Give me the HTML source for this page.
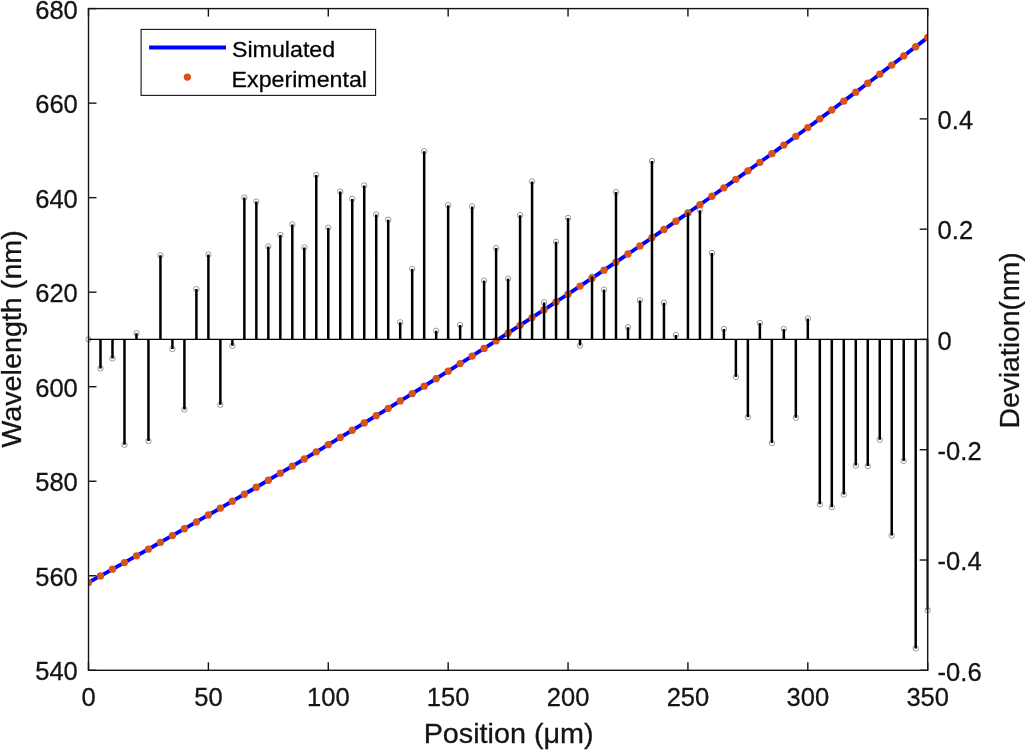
<!DOCTYPE html>
<html lang="en"><head><meta charset="utf-8"><title>Wavelength vs Position</title>
<style>html,body{margin:0;padding:0;background:#fff;overflow:hidden}svg{display:block}svg text{font-family:"Liberation Sans",Arial,Helvetica,sans-serif;stroke:#141414;stroke-width:0.3px}</style></head>
<body>
<svg width="1025" height="750" viewBox="0 0 1025 750" >
<rect width="1025" height="750" fill="#fff"/>
<clipPath id="cp"><rect x="88.5" y="8.6" width="839.2" height="661.6999999999999"/></clipPath>
<g id="left-series" clip-path="url(#cp)">
<polyline points="88.50,582.52 94.49,579.20 100.49,575.88 106.48,572.56 112.48,569.22 118.47,565.89 124.47,562.54 130.46,559.19 136.45,555.83 142.45,552.47 148.44,549.10 154.44,545.72 160.43,542.34 166.43,538.95 172.42,535.55 178.41,532.14 184.41,528.73 190.40,525.31 196.40,521.89 202.39,518.46 208.39,515.02 214.38,511.57 220.37,508.12 226.37,504.66 232.36,501.19 238.36,497.72 244.35,494.23 250.35,490.74 256.34,487.25 262.33,483.74 268.33,480.23 274.32,476.71 280.32,473.18 286.31,469.65 292.31,466.11 298.30,462.56 304.29,459.00 310.29,455.43 316.28,451.86 322.28,448.28 328.27,444.69 334.27,441.09 340.26,437.48 346.25,433.87 352.25,430.25 358.24,426.62 364.24,422.98 370.23,419.33 376.23,415.68 382.22,412.01 388.21,408.34 394.21,404.66 400.20,400.97 406.20,397.28 412.19,393.57 418.19,389.86 424.18,386.13 430.17,382.40 436.17,378.66 442.16,374.91 448.16,371.15 454.15,367.38 460.15,363.61 466.14,359.82 472.13,356.03 478.13,352.22 484.12,348.41 490.12,344.59 496.11,340.76 502.11,336.91 508.10,333.06 514.09,329.20 520.09,325.34 526.08,321.46 532.08,317.57 538.07,313.67 544.07,309.76 550.06,305.85 556.05,301.92 562.05,297.98 568.04,294.04 574.04,290.08 580.03,286.11 586.03,282.14 592.02,278.15 598.01,274.16 604.01,270.15 610.00,266.13 616.00,262.11 621.99,258.07 627.99,254.02 633.98,249.97 639.97,245.90 645.97,241.82 651.96,237.73 657.96,233.63 663.95,229.52 669.95,225.40 675.94,221.27 681.93,217.13 687.93,212.97 693.92,208.81 699.92,204.64 705.91,200.45 711.91,196.25 717.90,192.05 723.89,187.83 729.89,183.60 735.88,179.36 741.88,175.11 747.87,170.84 753.87,166.57 759.86,162.29 765.85,157.99 771.85,153.68 777.84,149.36 783.84,145.03 789.83,140.69 795.83,136.33 801.82,131.97 807.81,127.59 813.81,123.20 819.80,118.80 825.80,114.39 831.79,109.96 837.79,105.52 843.78,101.07 849.77,96.61 855.77,92.14 861.76,87.66 867.76,83.16 873.75,78.65 879.75,74.13 885.74,69.59 891.73,65.05 897.73,60.49 903.72,55.92 909.72,51.34 915.71,46.74 921.71,42.13 927.70,37.51" fill="none" stroke="#0000ff" stroke-width="3.8" stroke-linejoin="round"/>
<circle cx="88.50" cy="582.52" r="3.65" fill="#d95319"/>
<circle cx="100.49" cy="575.88" r="3.65" fill="#d95319"/>
<circle cx="112.48" cy="569.22" r="3.65" fill="#d95319"/>
<circle cx="124.47" cy="562.54" r="3.65" fill="#d95319"/>
<circle cx="136.45" cy="555.83" r="3.65" fill="#d95319"/>
<circle cx="148.44" cy="549.10" r="3.65" fill="#d95319"/>
<circle cx="160.43" cy="542.34" r="3.65" fill="#d95319"/>
<circle cx="172.42" cy="535.55" r="3.65" fill="#d95319"/>
<circle cx="184.41" cy="528.73" r="3.65" fill="#d95319"/>
<circle cx="196.40" cy="521.89" r="3.65" fill="#d95319"/>
<circle cx="208.39" cy="515.02" r="3.65" fill="#d95319"/>
<circle cx="220.37" cy="508.12" r="3.65" fill="#d95319"/>
<circle cx="232.36" cy="501.19" r="3.65" fill="#d95319"/>
<circle cx="244.35" cy="494.23" r="3.65" fill="#d95319"/>
<circle cx="256.34" cy="487.25" r="3.65" fill="#d95319"/>
<circle cx="268.33" cy="480.23" r="3.65" fill="#d95319"/>
<circle cx="280.32" cy="473.18" r="3.65" fill="#d95319"/>
<circle cx="292.31" cy="466.11" r="3.65" fill="#d95319"/>
<circle cx="304.29" cy="459.00" r="3.65" fill="#d95319"/>
<circle cx="316.28" cy="451.86" r="3.65" fill="#d95319"/>
<circle cx="328.27" cy="444.69" r="3.65" fill="#d95319"/>
<circle cx="340.26" cy="437.48" r="3.65" fill="#d95319"/>
<circle cx="352.25" cy="430.25" r="3.65" fill="#d95319"/>
<circle cx="364.24" cy="422.98" r="3.65" fill="#d95319"/>
<circle cx="376.23" cy="415.68" r="3.65" fill="#d95319"/>
<circle cx="388.21" cy="408.34" r="3.65" fill="#d95319"/>
<circle cx="400.20" cy="400.97" r="3.65" fill="#d95319"/>
<circle cx="412.19" cy="393.57" r="3.65" fill="#d95319"/>
<circle cx="424.18" cy="386.13" r="3.65" fill="#d95319"/>
<circle cx="436.17" cy="378.66" r="3.65" fill="#d95319"/>
<circle cx="448.16" cy="371.15" r="3.65" fill="#d95319"/>
<circle cx="460.15" cy="363.61" r="3.65" fill="#d95319"/>
<circle cx="472.13" cy="356.03" r="3.65" fill="#d95319"/>
<circle cx="484.12" cy="348.41" r="3.65" fill="#d95319"/>
<circle cx="496.11" cy="340.76" r="3.65" fill="#d95319"/>
<circle cx="508.10" cy="333.06" r="3.65" fill="#d95319"/>
<circle cx="520.09" cy="325.34" r="3.65" fill="#d95319"/>
<circle cx="532.08" cy="317.57" r="3.65" fill="#d95319"/>
<circle cx="544.07" cy="309.76" r="3.65" fill="#d95319"/>
<circle cx="556.05" cy="301.92" r="3.65" fill="#d95319"/>
<circle cx="568.04" cy="294.04" r="3.65" fill="#d95319"/>
<circle cx="580.03" cy="286.11" r="3.65" fill="#d95319"/>
<circle cx="592.02" cy="278.15" r="3.65" fill="#d95319"/>
<circle cx="604.01" cy="270.15" r="3.65" fill="#d95319"/>
<circle cx="616.00" cy="262.11" r="3.65" fill="#d95319"/>
<circle cx="627.99" cy="254.02" r="3.65" fill="#d95319"/>
<circle cx="639.97" cy="245.90" r="3.65" fill="#d95319"/>
<circle cx="651.96" cy="237.73" r="3.65" fill="#d95319"/>
<circle cx="663.95" cy="229.52" r="3.65" fill="#d95319"/>
<circle cx="675.94" cy="221.27" r="3.65" fill="#d95319"/>
<circle cx="687.93" cy="212.97" r="3.65" fill="#d95319"/>
<circle cx="699.92" cy="204.64" r="3.65" fill="#d95319"/>
<circle cx="711.91" cy="196.25" r="3.65" fill="#d95319"/>
<circle cx="723.89" cy="187.83" r="3.65" fill="#d95319"/>
<circle cx="735.88" cy="179.36" r="3.65" fill="#d95319"/>
<circle cx="747.87" cy="170.84" r="3.65" fill="#d95319"/>
<circle cx="759.86" cy="162.29" r="3.65" fill="#d95319"/>
<circle cx="771.85" cy="153.68" r="3.65" fill="#d95319"/>
<circle cx="783.84" cy="145.03" r="3.65" fill="#d95319"/>
<circle cx="795.83" cy="136.33" r="3.65" fill="#d95319"/>
<circle cx="807.81" cy="127.59" r="3.65" fill="#d95319"/>
<circle cx="819.80" cy="118.80" r="3.65" fill="#d95319"/>
<circle cx="831.79" cy="109.96" r="3.65" fill="#d95319"/>
<circle cx="843.78" cy="101.07" r="3.65" fill="#d95319"/>
<circle cx="855.77" cy="92.14" r="3.65" fill="#d95319"/>
<circle cx="867.76" cy="83.16" r="3.65" fill="#d95319"/>
<circle cx="879.75" cy="74.13" r="3.65" fill="#d95319"/>
<circle cx="891.73" cy="65.05" r="3.65" fill="#d95319"/>
<circle cx="903.72" cy="55.92" r="3.65" fill="#d95319"/>
<circle cx="915.71" cy="46.74" r="3.65" fill="#d95319"/>
<circle cx="927.70" cy="37.51" r="3.65" fill="#d95319"/>
</g>
<clipPath id="cs"><rect x="88.5" y="8.6" width="839.9000000000001" height="661.6999999999999"/></clipPath>
<g id="stems">
<circle cx="88.50" cy="339.3" r="2.7" fill="none" stroke="#707070" stroke-width="0.7"/>
<circle cx="100.49" cy="368.4" r="2.7" fill="none" stroke="#707070" stroke-width="0.7"/>
<circle cx="112.48" cy="358.4" r="2.7" fill="none" stroke="#707070" stroke-width="0.7"/>
<circle cx="124.47" cy="444.8" r="2.7" fill="none" stroke="#707070" stroke-width="0.7"/>
<circle cx="136.45" cy="333.2" r="2.7" fill="none" stroke="#707070" stroke-width="0.7"/>
<circle cx="148.44" cy="441.1" r="2.7" fill="none" stroke="#707070" stroke-width="0.7"/>
<circle cx="160.43" cy="255.3" r="2.7" fill="none" stroke="#707070" stroke-width="0.7"/>
<circle cx="172.42" cy="349.1" r="2.7" fill="none" stroke="#707070" stroke-width="0.7"/>
<circle cx="184.41" cy="409.5" r="2.7" fill="none" stroke="#707070" stroke-width="0.7"/>
<circle cx="196.40" cy="289.1" r="2.7" fill="none" stroke="#707070" stroke-width="0.7"/>
<circle cx="208.39" cy="254.5" r="2.7" fill="none" stroke="#707070" stroke-width="0.7"/>
<circle cx="220.37" cy="404.7" r="2.7" fill="none" stroke="#707070" stroke-width="0.7"/>
<circle cx="232.36" cy="345.8" r="2.7" fill="none" stroke="#707070" stroke-width="0.7"/>
<circle cx="244.35" cy="197.6" r="2.7" fill="none" stroke="#707070" stroke-width="0.7"/>
<circle cx="256.34" cy="201.6" r="2.7" fill="none" stroke="#707070" stroke-width="0.7"/>
<circle cx="268.33" cy="246.5" r="2.7" fill="none" stroke="#707070" stroke-width="0.7"/>
<circle cx="280.32" cy="235.0" r="2.7" fill="none" stroke="#707070" stroke-width="0.7"/>
<circle cx="292.31" cy="224.4" r="2.7" fill="none" stroke="#707070" stroke-width="0.7"/>
<circle cx="304.29" cy="247.5" r="2.7" fill="none" stroke="#707070" stroke-width="0.7"/>
<circle cx="316.28" cy="175.0" r="2.7" fill="none" stroke="#707070" stroke-width="0.7"/>
<circle cx="328.27" cy="227.7" r="2.7" fill="none" stroke="#707070" stroke-width="0.7"/>
<circle cx="340.26" cy="191.6" r="2.7" fill="none" stroke="#707070" stroke-width="0.7"/>
<circle cx="352.25" cy="198.9" r="2.7" fill="none" stroke="#707070" stroke-width="0.7"/>
<circle cx="364.24" cy="185.4" r="2.7" fill="none" stroke="#707070" stroke-width="0.7"/>
<circle cx="376.23" cy="214.5" r="2.7" fill="none" stroke="#707070" stroke-width="0.7"/>
<circle cx="388.21" cy="219.7" r="2.7" fill="none" stroke="#707070" stroke-width="0.7"/>
<circle cx="400.20" cy="322.3" r="2.7" fill="none" stroke="#707070" stroke-width="0.7"/>
<circle cx="412.19" cy="268.9" r="2.7" fill="none" stroke="#707070" stroke-width="0.7"/>
<circle cx="424.18" cy="151.3" r="2.7" fill="none" stroke="#707070" stroke-width="0.7"/>
<circle cx="436.17" cy="330.8" r="2.7" fill="none" stroke="#707070" stroke-width="0.7"/>
<circle cx="448.16" cy="205.2" r="2.7" fill="none" stroke="#707070" stroke-width="0.7"/>
<circle cx="460.15" cy="325.0" r="2.7" fill="none" stroke="#707070" stroke-width="0.7"/>
<circle cx="472.13" cy="206.4" r="2.7" fill="none" stroke="#707070" stroke-width="0.7"/>
<circle cx="484.12" cy="280.6" r="2.7" fill="none" stroke="#707070" stroke-width="0.7"/>
<circle cx="496.11" cy="248.0" r="2.7" fill="none" stroke="#707070" stroke-width="0.7"/>
<circle cx="508.10" cy="278.6" r="2.7" fill="none" stroke="#707070" stroke-width="0.7"/>
<circle cx="520.09" cy="215.2" r="2.7" fill="none" stroke="#707070" stroke-width="0.7"/>
<circle cx="532.08" cy="181.4" r="2.7" fill="none" stroke="#707070" stroke-width="0.7"/>
<circle cx="544.07" cy="302.4" r="2.7" fill="none" stroke="#707070" stroke-width="0.7"/>
<circle cx="556.05" cy="241.8" r="2.7" fill="none" stroke="#707070" stroke-width="0.7"/>
<circle cx="568.04" cy="218.0" r="2.7" fill="none" stroke="#707070" stroke-width="0.7"/>
<circle cx="580.03" cy="345.5" r="2.7" fill="none" stroke="#707070" stroke-width="0.7"/>
<circle cx="592.02" cy="276.6" r="2.7" fill="none" stroke="#707070" stroke-width="0.7"/>
<circle cx="604.01" cy="289.6" r="2.7" fill="none" stroke="#707070" stroke-width="0.7"/>
<circle cx="616.00" cy="191.9" r="2.7" fill="none" stroke="#707070" stroke-width="0.7"/>
<circle cx="627.99" cy="327.2" r="2.7" fill="none" stroke="#707070" stroke-width="0.7"/>
<circle cx="639.97" cy="300.4" r="2.7" fill="none" stroke="#707070" stroke-width="0.7"/>
<circle cx="651.96" cy="161.0" r="2.7" fill="none" stroke="#707070" stroke-width="0.7"/>
<circle cx="663.95" cy="302.7" r="2.7" fill="none" stroke="#707070" stroke-width="0.7"/>
<circle cx="675.94" cy="335.0" r="2.7" fill="none" stroke="#707070" stroke-width="0.7"/>
<circle cx="687.93" cy="212.7" r="2.7" fill="none" stroke="#707070" stroke-width="0.7"/>
<circle cx="699.92" cy="210.2" r="2.7" fill="none" stroke="#707070" stroke-width="0.7"/>
<circle cx="711.91" cy="253.0" r="2.7" fill="none" stroke="#707070" stroke-width="0.7"/>
<circle cx="723.89" cy="329.0" r="2.7" fill="none" stroke="#707070" stroke-width="0.7"/>
<circle cx="735.88" cy="376.9" r="2.7" fill="none" stroke="#707070" stroke-width="0.7"/>
<circle cx="747.87" cy="417.2" r="2.7" fill="none" stroke="#707070" stroke-width="0.7"/>
<circle cx="759.86" cy="323.0" r="2.7" fill="none" stroke="#707070" stroke-width="0.7"/>
<circle cx="771.85" cy="443.1" r="2.7" fill="none" stroke="#707070" stroke-width="0.7"/>
<circle cx="783.84" cy="329.0" r="2.7" fill="none" stroke="#707070" stroke-width="0.7"/>
<circle cx="795.83" cy="417.7" r="2.7" fill="none" stroke="#707070" stroke-width="0.7"/>
<circle cx="807.81" cy="318.5" r="2.7" fill="none" stroke="#707070" stroke-width="0.7"/>
<circle cx="819.80" cy="504.2" r="2.7" fill="none" stroke="#707070" stroke-width="0.7"/>
<circle cx="831.79" cy="507.2" r="2.7" fill="none" stroke="#707070" stroke-width="0.7"/>
<circle cx="843.78" cy="494.5" r="2.7" fill="none" stroke="#707070" stroke-width="0.7"/>
<circle cx="855.77" cy="465.6" r="2.7" fill="none" stroke="#707070" stroke-width="0.7"/>
<circle cx="867.76" cy="466.1" r="2.7" fill="none" stroke="#707070" stroke-width="0.7"/>
<circle cx="879.75" cy="439.8" r="2.7" fill="none" stroke="#707070" stroke-width="0.7"/>
<circle cx="891.73" cy="535.6" r="2.7" fill="none" stroke="#707070" stroke-width="0.7"/>
<circle cx="903.72" cy="460.9" r="2.7" fill="none" stroke="#707070" stroke-width="0.7"/>
<circle cx="915.71" cy="648.4" r="2.7" fill="none" stroke="#707070" stroke-width="0.7"/>
<circle cx="927.70" cy="610.3" r="2.7" fill="none" stroke="#707070" stroke-width="0.7"/>
<line x1="88.5" y1="339.3" x2="927.7" y2="339.3" stroke="#000" stroke-width="1.3"/>
<line x1="88.50" y1="339.3" x2="88.50" y2="339.3" stroke="#000" stroke-width="2.5" clip-path="url(#cs)"/>
<line x1="100.49" y1="339.3" x2="100.49" y2="368.4" stroke="#000" stroke-width="2.5" clip-path="url(#cs)"/>
<line x1="112.48" y1="339.3" x2="112.48" y2="358.4" stroke="#000" stroke-width="2.5" clip-path="url(#cs)"/>
<line x1="124.47" y1="339.3" x2="124.47" y2="444.8" stroke="#000" stroke-width="2.5" clip-path="url(#cs)"/>
<line x1="136.45" y1="339.3" x2="136.45" y2="333.2" stroke="#000" stroke-width="2.5" clip-path="url(#cs)"/>
<line x1="148.44" y1="339.3" x2="148.44" y2="441.1" stroke="#000" stroke-width="2.5" clip-path="url(#cs)"/>
<line x1="160.43" y1="339.3" x2="160.43" y2="255.3" stroke="#000" stroke-width="2.5" clip-path="url(#cs)"/>
<line x1="172.42" y1="339.3" x2="172.42" y2="349.1" stroke="#000" stroke-width="2.5" clip-path="url(#cs)"/>
<line x1="184.41" y1="339.3" x2="184.41" y2="409.5" stroke="#000" stroke-width="2.5" clip-path="url(#cs)"/>
<line x1="196.40" y1="339.3" x2="196.40" y2="289.1" stroke="#000" stroke-width="2.5" clip-path="url(#cs)"/>
<line x1="208.39" y1="339.3" x2="208.39" y2="254.5" stroke="#000" stroke-width="2.5" clip-path="url(#cs)"/>
<line x1="220.37" y1="339.3" x2="220.37" y2="404.7" stroke="#000" stroke-width="2.5" clip-path="url(#cs)"/>
<line x1="232.36" y1="339.3" x2="232.36" y2="345.8" stroke="#000" stroke-width="2.5" clip-path="url(#cs)"/>
<line x1="244.35" y1="339.3" x2="244.35" y2="197.6" stroke="#000" stroke-width="2.5" clip-path="url(#cs)"/>
<line x1="256.34" y1="339.3" x2="256.34" y2="201.6" stroke="#000" stroke-width="2.5" clip-path="url(#cs)"/>
<line x1="268.33" y1="339.3" x2="268.33" y2="246.5" stroke="#000" stroke-width="2.5" clip-path="url(#cs)"/>
<line x1="280.32" y1="339.3" x2="280.32" y2="235.0" stroke="#000" stroke-width="2.5" clip-path="url(#cs)"/>
<line x1="292.31" y1="339.3" x2="292.31" y2="224.4" stroke="#000" stroke-width="2.5" clip-path="url(#cs)"/>
<line x1="304.29" y1="339.3" x2="304.29" y2="247.5" stroke="#000" stroke-width="2.5" clip-path="url(#cs)"/>
<line x1="316.28" y1="339.3" x2="316.28" y2="175.0" stroke="#000" stroke-width="2.5" clip-path="url(#cs)"/>
<line x1="328.27" y1="339.3" x2="328.27" y2="227.7" stroke="#000" stroke-width="2.5" clip-path="url(#cs)"/>
<line x1="340.26" y1="339.3" x2="340.26" y2="191.6" stroke="#000" stroke-width="2.5" clip-path="url(#cs)"/>
<line x1="352.25" y1="339.3" x2="352.25" y2="198.9" stroke="#000" stroke-width="2.5" clip-path="url(#cs)"/>
<line x1="364.24" y1="339.3" x2="364.24" y2="185.4" stroke="#000" stroke-width="2.5" clip-path="url(#cs)"/>
<line x1="376.23" y1="339.3" x2="376.23" y2="214.5" stroke="#000" stroke-width="2.5" clip-path="url(#cs)"/>
<line x1="388.21" y1="339.3" x2="388.21" y2="219.7" stroke="#000" stroke-width="2.5" clip-path="url(#cs)"/>
<line x1="400.20" y1="339.3" x2="400.20" y2="322.3" stroke="#000" stroke-width="2.5" clip-path="url(#cs)"/>
<line x1="412.19" y1="339.3" x2="412.19" y2="268.9" stroke="#000" stroke-width="2.5" clip-path="url(#cs)"/>
<line x1="424.18" y1="339.3" x2="424.18" y2="151.3" stroke="#000" stroke-width="2.5" clip-path="url(#cs)"/>
<line x1="436.17" y1="339.3" x2="436.17" y2="330.8" stroke="#000" stroke-width="2.5" clip-path="url(#cs)"/>
<line x1="448.16" y1="339.3" x2="448.16" y2="205.2" stroke="#000" stroke-width="2.5" clip-path="url(#cs)"/>
<line x1="460.15" y1="339.3" x2="460.15" y2="325.0" stroke="#000" stroke-width="2.5" clip-path="url(#cs)"/>
<line x1="472.13" y1="339.3" x2="472.13" y2="206.4" stroke="#000" stroke-width="2.5" clip-path="url(#cs)"/>
<line x1="484.12" y1="339.3" x2="484.12" y2="280.6" stroke="#000" stroke-width="2.5" clip-path="url(#cs)"/>
<line x1="496.11" y1="339.3" x2="496.11" y2="248.0" stroke="#000" stroke-width="2.5" clip-path="url(#cs)"/>
<line x1="508.10" y1="339.3" x2="508.10" y2="278.6" stroke="#000" stroke-width="2.5" clip-path="url(#cs)"/>
<line x1="520.09" y1="339.3" x2="520.09" y2="215.2" stroke="#000" stroke-width="2.5" clip-path="url(#cs)"/>
<line x1="532.08" y1="339.3" x2="532.08" y2="181.4" stroke="#000" stroke-width="2.5" clip-path="url(#cs)"/>
<line x1="544.07" y1="339.3" x2="544.07" y2="302.4" stroke="#000" stroke-width="2.5" clip-path="url(#cs)"/>
<line x1="556.05" y1="339.3" x2="556.05" y2="241.8" stroke="#000" stroke-width="2.5" clip-path="url(#cs)"/>
<line x1="568.04" y1="339.3" x2="568.04" y2="218.0" stroke="#000" stroke-width="2.5" clip-path="url(#cs)"/>
<line x1="580.03" y1="339.3" x2="580.03" y2="345.5" stroke="#000" stroke-width="2.5" clip-path="url(#cs)"/>
<line x1="592.02" y1="339.3" x2="592.02" y2="276.6" stroke="#000" stroke-width="2.5" clip-path="url(#cs)"/>
<line x1="604.01" y1="339.3" x2="604.01" y2="289.6" stroke="#000" stroke-width="2.5" clip-path="url(#cs)"/>
<line x1="616.00" y1="339.3" x2="616.00" y2="191.9" stroke="#000" stroke-width="2.5" clip-path="url(#cs)"/>
<line x1="627.99" y1="339.3" x2="627.99" y2="327.2" stroke="#000" stroke-width="2.5" clip-path="url(#cs)"/>
<line x1="639.97" y1="339.3" x2="639.97" y2="300.4" stroke="#000" stroke-width="2.5" clip-path="url(#cs)"/>
<line x1="651.96" y1="339.3" x2="651.96" y2="161.0" stroke="#000" stroke-width="2.5" clip-path="url(#cs)"/>
<line x1="663.95" y1="339.3" x2="663.95" y2="302.7" stroke="#000" stroke-width="2.5" clip-path="url(#cs)"/>
<line x1="675.94" y1="339.3" x2="675.94" y2="335.0" stroke="#000" stroke-width="2.5" clip-path="url(#cs)"/>
<line x1="687.93" y1="339.3" x2="687.93" y2="212.7" stroke="#000" stroke-width="2.5" clip-path="url(#cs)"/>
<line x1="699.92" y1="339.3" x2="699.92" y2="210.2" stroke="#000" stroke-width="2.5" clip-path="url(#cs)"/>
<line x1="711.91" y1="339.3" x2="711.91" y2="253.0" stroke="#000" stroke-width="2.5" clip-path="url(#cs)"/>
<line x1="723.89" y1="339.3" x2="723.89" y2="329.0" stroke="#000" stroke-width="2.5" clip-path="url(#cs)"/>
<line x1="735.88" y1="339.3" x2="735.88" y2="376.9" stroke="#000" stroke-width="2.5" clip-path="url(#cs)"/>
<line x1="747.87" y1="339.3" x2="747.87" y2="417.2" stroke="#000" stroke-width="2.5" clip-path="url(#cs)"/>
<line x1="759.86" y1="339.3" x2="759.86" y2="323.0" stroke="#000" stroke-width="2.5" clip-path="url(#cs)"/>
<line x1="771.85" y1="339.3" x2="771.85" y2="443.1" stroke="#000" stroke-width="2.5" clip-path="url(#cs)"/>
<line x1="783.84" y1="339.3" x2="783.84" y2="329.0" stroke="#000" stroke-width="2.5" clip-path="url(#cs)"/>
<line x1="795.83" y1="339.3" x2="795.83" y2="417.7" stroke="#000" stroke-width="2.5" clip-path="url(#cs)"/>
<line x1="807.81" y1="339.3" x2="807.81" y2="318.5" stroke="#000" stroke-width="2.5" clip-path="url(#cs)"/>
<line x1="819.80" y1="339.3" x2="819.80" y2="504.2" stroke="#000" stroke-width="2.5" clip-path="url(#cs)"/>
<line x1="831.79" y1="339.3" x2="831.79" y2="507.2" stroke="#000" stroke-width="2.5" clip-path="url(#cs)"/>
<line x1="843.78" y1="339.3" x2="843.78" y2="494.5" stroke="#000" stroke-width="2.5" clip-path="url(#cs)"/>
<line x1="855.77" y1="339.3" x2="855.77" y2="465.6" stroke="#000" stroke-width="2.5" clip-path="url(#cs)"/>
<line x1="867.76" y1="339.3" x2="867.76" y2="466.1" stroke="#000" stroke-width="2.5" clip-path="url(#cs)"/>
<line x1="879.75" y1="339.3" x2="879.75" y2="439.8" stroke="#000" stroke-width="2.5" clip-path="url(#cs)"/>
<line x1="891.73" y1="339.3" x2="891.73" y2="535.6" stroke="#000" stroke-width="2.5" clip-path="url(#cs)"/>
<line x1="903.72" y1="339.3" x2="903.72" y2="460.9" stroke="#000" stroke-width="2.5" clip-path="url(#cs)"/>
<line x1="915.71" y1="339.3" x2="915.71" y2="648.4" stroke="#000" stroke-width="2.5" clip-path="url(#cs)"/>
<line x1="927.70" y1="339.3" x2="927.70" y2="610.3" stroke="#000" stroke-width="2.5" clip-path="url(#cs)"/>
</g>
<rect x="88.5" y="8.6" width="839.2" height="661.6999999999999" fill="none" stroke="#141414" stroke-width="1.4"/>
<line x1="88.50" y1="670.3" x2="88.50" y2="662.3" stroke="#141414" stroke-width="1.4"/>
<line x1="88.50" y1="8.6" x2="88.50" y2="16.6" stroke="#141414" stroke-width="1.4"/>
<text transform="translate(88.50,706.1) scale(0.96,1)" font-size="26.6" text-anchor="middle" fill="#141414">0</text>
<line x1="208.39" y1="670.3" x2="208.39" y2="662.3" stroke="#141414" stroke-width="1.4"/>
<line x1="208.39" y1="8.6" x2="208.39" y2="16.6" stroke="#141414" stroke-width="1.4"/>
<text transform="translate(208.39,706.1) scale(0.96,1)" font-size="26.6" text-anchor="middle" fill="#141414">50</text>
<line x1="328.27" y1="670.3" x2="328.27" y2="662.3" stroke="#141414" stroke-width="1.4"/>
<line x1="328.27" y1="8.6" x2="328.27" y2="16.6" stroke="#141414" stroke-width="1.4"/>
<text transform="translate(328.27,706.1) scale(0.96,1)" font-size="26.6" text-anchor="middle" fill="#141414">100</text>
<line x1="448.16" y1="670.3" x2="448.16" y2="662.3" stroke="#141414" stroke-width="1.4"/>
<line x1="448.16" y1="8.6" x2="448.16" y2="16.6" stroke="#141414" stroke-width="1.4"/>
<text transform="translate(448.16,706.1) scale(0.96,1)" font-size="26.6" text-anchor="middle" fill="#141414">150</text>
<line x1="568.04" y1="670.3" x2="568.04" y2="662.3" stroke="#141414" stroke-width="1.4"/>
<line x1="568.04" y1="8.6" x2="568.04" y2="16.6" stroke="#141414" stroke-width="1.4"/>
<text transform="translate(568.04,706.1) scale(0.96,1)" font-size="26.6" text-anchor="middle" fill="#141414">200</text>
<line x1="687.93" y1="670.3" x2="687.93" y2="662.3" stroke="#141414" stroke-width="1.4"/>
<line x1="687.93" y1="8.6" x2="687.93" y2="16.6" stroke="#141414" stroke-width="1.4"/>
<text transform="translate(687.93,706.1) scale(0.96,1)" font-size="26.6" text-anchor="middle" fill="#141414">250</text>
<line x1="807.81" y1="670.3" x2="807.81" y2="662.3" stroke="#141414" stroke-width="1.4"/>
<line x1="807.81" y1="8.6" x2="807.81" y2="16.6" stroke="#141414" stroke-width="1.4"/>
<text transform="translate(807.81,706.1) scale(0.96,1)" font-size="26.6" text-anchor="middle" fill="#141414">300</text>
<line x1="927.70" y1="670.3" x2="927.70" y2="662.3" stroke="#141414" stroke-width="1.4"/>
<line x1="927.70" y1="8.6" x2="927.70" y2="16.6" stroke="#141414" stroke-width="1.4"/>
<text transform="translate(927.70,706.1) scale(0.96,1)" font-size="26.6" text-anchor="middle" fill="#141414">350</text>
<line x1="88.5" y1="670.30" x2="96.5" y2="670.30" stroke="#141414" stroke-width="1.4"/>
<text transform="translate(77.8,680.30) scale(0.96,1)" font-size="26.6" text-anchor="end" fill="#141414">540</text>
<line x1="88.5" y1="575.77" x2="96.5" y2="575.77" stroke="#141414" stroke-width="1.4"/>
<text transform="translate(77.8,585.77) scale(0.96,1)" font-size="26.6" text-anchor="end" fill="#141414">560</text>
<line x1="88.5" y1="481.24" x2="96.5" y2="481.24" stroke="#141414" stroke-width="1.4"/>
<text transform="translate(77.8,491.24) scale(0.96,1)" font-size="26.6" text-anchor="end" fill="#141414">580</text>
<line x1="88.5" y1="386.71" x2="96.5" y2="386.71" stroke="#141414" stroke-width="1.4"/>
<text transform="translate(77.8,396.71) scale(0.96,1)" font-size="26.6" text-anchor="end" fill="#141414">600</text>
<line x1="88.5" y1="292.19" x2="96.5" y2="292.19" stroke="#141414" stroke-width="1.4"/>
<text transform="translate(77.8,302.19) scale(0.96,1)" font-size="26.6" text-anchor="end" fill="#141414">620</text>
<line x1="88.5" y1="197.66" x2="96.5" y2="197.66" stroke="#141414" stroke-width="1.4"/>
<text transform="translate(77.8,207.66) scale(0.96,1)" font-size="26.6" text-anchor="end" fill="#141414">640</text>
<line x1="88.5" y1="103.13" x2="96.5" y2="103.13" stroke="#141414" stroke-width="1.4"/>
<text transform="translate(77.8,113.13) scale(0.96,1)" font-size="26.6" text-anchor="end" fill="#141414">660</text>
<line x1="88.5" y1="8.60" x2="96.5" y2="8.60" stroke="#141414" stroke-width="1.4"/>
<text transform="translate(77.8,18.60) scale(0.96,1)" font-size="26.6" text-anchor="end" fill="#141414">680</text>
<line x1="927.7" y1="670.30" x2="919.7" y2="670.30" stroke="#141414" stroke-width="1.4"/>
<text transform="translate(937.6,680.50) scale(0.96,1)" font-size="26.6" fill="#141414">-0.6</text>
<line x1="927.7" y1="560.02" x2="919.7" y2="560.02" stroke="#141414" stroke-width="1.4"/>
<text transform="translate(937.6,570.22) scale(0.96,1)" font-size="26.6" fill="#141414">-0.4</text>
<line x1="927.7" y1="449.73" x2="919.7" y2="449.73" stroke="#141414" stroke-width="1.4"/>
<text transform="translate(937.6,459.93) scale(0.96,1)" font-size="26.6" fill="#141414">-0.2</text>
<line x1="927.7" y1="339.45" x2="919.7" y2="339.45" stroke="#141414" stroke-width="1.4"/>
<text transform="translate(937.6,349.65) scale(0.96,1)" font-size="26.6" fill="#141414">0</text>
<line x1="927.7" y1="229.17" x2="919.7" y2="229.17" stroke="#141414" stroke-width="1.4"/>
<text transform="translate(937.6,239.37) scale(0.96,1)" font-size="26.6" fill="#141414">0.2</text>
<line x1="927.7" y1="118.88" x2="919.7" y2="118.88" stroke="#141414" stroke-width="1.4"/>
<text transform="translate(937.6,129.08) scale(0.96,1)" font-size="26.6" fill="#141414">0.4</text>
<text transform="translate(508.6,743.2) scale(1.065,1)" font-size="27" text-anchor="middle" fill="#141414">Position (μm)</text>
<text transform="translate(20.6,339) rotate(-90) scale(1.065,1)" font-size="27" text-anchor="middle" fill="#141414">Wavelength (nm)</text>
<text transform="translate(1019.4,340.4) rotate(-90) scale(1.05,1)" font-size="27" text-anchor="middle" fill="#141414">Deviation(nm)</text>
<rect x="141.1" y="29.4" width="234.5" height="66" fill="#fff" stroke="#141414" stroke-width="1.1"/>
<line x1="149.1" y1="47.4" x2="226" y2="47.4" stroke="#0000ff" stroke-width="4"/>
<circle cx="187.4" cy="77.1" r="3.7" fill="#d95319"/>
<text transform="translate(232,56.6) scale(1.027,1)" font-size="22.6" fill="#000">Simulated</text>
<text transform="translate(231.6,86.6) scale(1.027,1)" font-size="22.6" fill="#000">Experimental</text>
</svg>
</body></html>
